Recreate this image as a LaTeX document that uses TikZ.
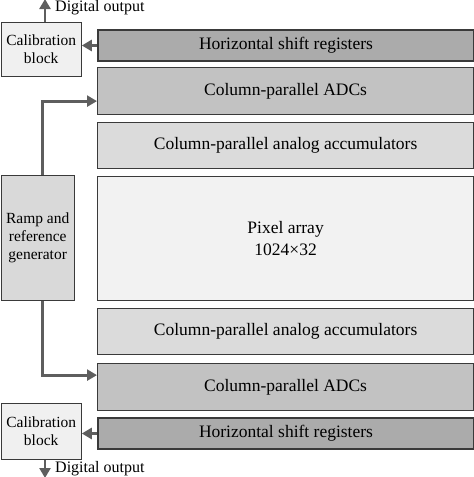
\documentclass[tikz,border=0pt]{standalone}
\usepackage{fontspec}
\setmainfont{Liberation Serif}
\usetikzlibrary{arrows.meta}
\definecolor{edge}{HTML}{3A3A3A}
\definecolor{wire}{HTML}{5E5E5E}
\tikzset{
  blk/.style={draw=edge, line width=1.2pt, anchor=north west, inner sep=0pt,
    align=center, font=\fontsize{17.5}{22}\selectfont},
  side/.style={blk, font=\fontsize{15.5}{18}\selectfont},
  reg/.style={blk, fill=black!33, line width=2pt, minimum width=376pt, minimum height=31pt},
  adc/.style={blk, fill=black!24, minimum width=376pt, minimum height=47pt},
  acc/.style={blk, fill=black!14, minimum width=376pt, minimum height=46pt},
  outtxt/.style={anchor=base west, inner sep=0pt, font=\fontsize{16}{18}\selectfont},
  link/.style={draw=wire, line width=2.8pt, -{Triangle[length=10pt,width=11pt]}},
}
\begin{document}
\begin{tikzpicture}[x=1pt,y=-1pt]
  \useasboundingbox (0,0) rectangle (474,477);
  % right column
  \node[reg] (hsrtop) at (97,29) {Horizontal shift registers};
  \node[adc] (adctop) at (97,67) {Column-parallel ADCs};
  \node[acc] (acctop) at (97,122) {Column-parallel analog accumulators};
  \node[blk, fill=black!5, minimum width=376pt, minimum height=124pt] (pix) at (97,176) {Pixel array\\1024×32};
  \node[acc] (accbot) at (97,308) {Column-parallel analog accumulators};
  \node[adc] (adcbot) at (97,363) {Column-parallel ADCs};
  \node[reg] (hsrbot) at (97,417) {Horizontal shift registers};
  % left column
  \node[side, fill=black!6, minimum width=80pt, minimum height=54pt] (caltop) at (0.6,22) {Calibration\\block};
  \node[side, fill=black!15, minimum width=73pt, minimum height=125pt] (ramp) at (0.6,175) {Ramp and\\reference\\generator};
  \node[side, fill=black!6, minimum width=80pt, minimum height=56pt] (calbot) at (0.6,403) {Calibration\\block};
  % outputs
  \coordinate (outtop) at (45,-1);
  \coordinate (outbot) at (45,478);
  \node[outtxt] (txttop) at (55,11) {Digital output};
  \node[outtxt] (txtbot) at (55,472) {Digital output};
  % connectors
  \draw[link] (hsrtop.west) -- (hsrtop.west -| caltop.east);
  \draw[link] (hsrbot.west) -- (hsrbot.west -| calbot.east);
  \draw[link] (caltop.north -| outtop) -- (outtop);
  \draw[link] (calbot.south -| outbot) -- (outbot);
  \draw[link] ([xshift=5pt]ramp.north) |- ([yshift=-10pt]adctop.west);
  \draw[link] ([xshift=5pt]ramp.south) |- ([yshift=12pt]adcbot.west);
\end{tikzpicture}
\end{document}
